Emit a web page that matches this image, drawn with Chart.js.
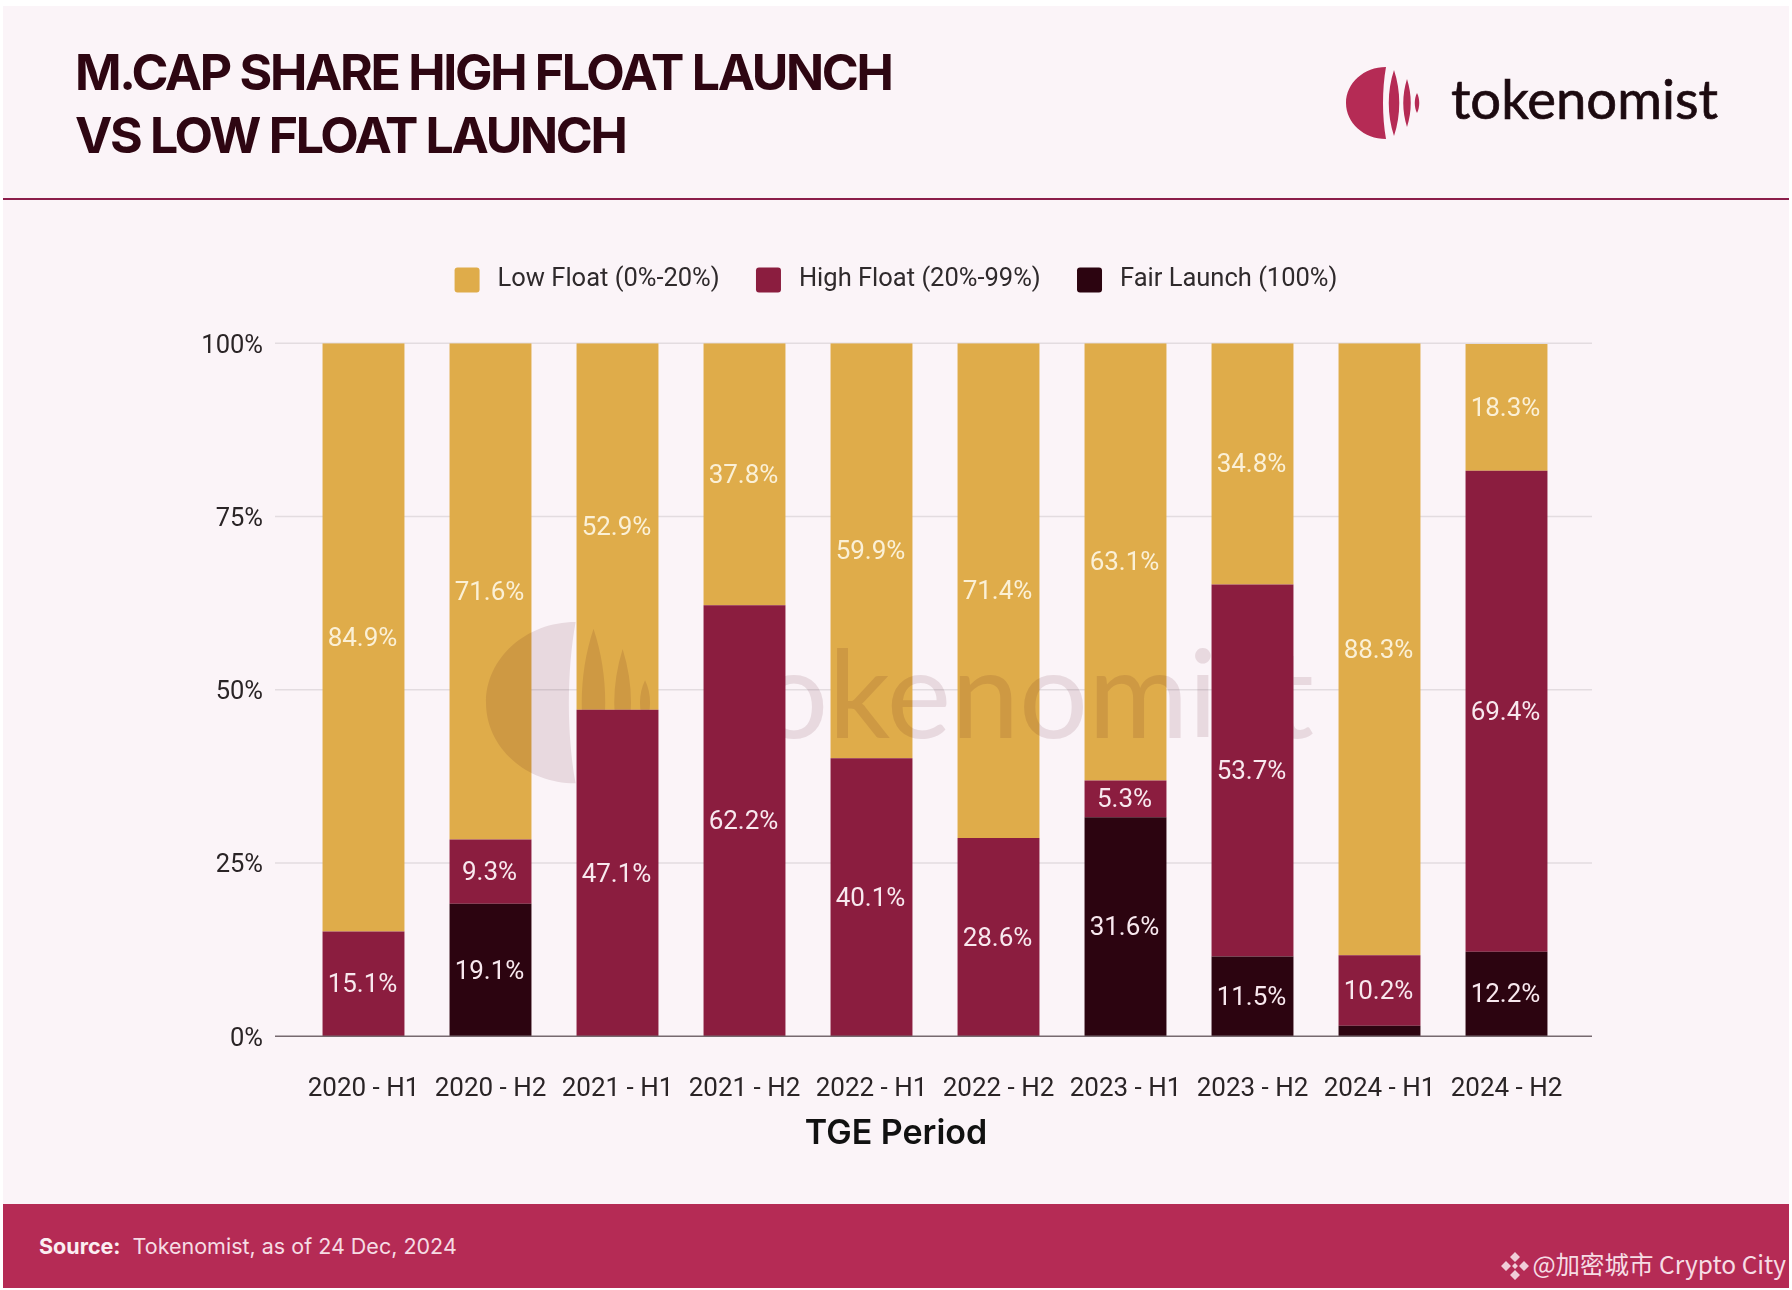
<!DOCTYPE html>
<html>
<head>
<meta charset="utf-8">
<title>M.CAP Share High Float Launch vs Low Float Launch</title>
<script src="https://cdn.jsdelivr.net/npm/chart.js@4/dist/chart.umd.min.js"></script>
<style>
    html, body { margin: 0; padding: 0; background: #fff; }
    body { width: 1792px; height: 1290px; position: relative; overflow: hidden; }
    #panel { position: absolute; left: 3px; top: 6px; width: 1786px; height: 1282px; background: #fbf4f8; }
    #heading {
        position: absolute; left: 75px; top: 41px; margin: 0;
        font: 700 50px/63px Inter, sans-serif; letter-spacing: -2.3px; color: #2e0612;
    }
    #logo { position: absolute; left: 1346px; top: 67px; }
    #rule { position: absolute; left: 3px; top: 198px; width: 1786px; height: 2px; background: #8b1d4a; }
    #chartBox { position: absolute; left: 3px; top: 202px; width: 1786px; height: 1002px; }
    #footer { position: absolute; left: 3px; top: 1204px; width: 1786px; height: 84px; background: #b52b55; }
    #source {
        position: absolute; left: 36px; top: 28px;
        font: 400 21.5px/28px Inter, sans-serif; color: #f6dce4;
    }
    #source b { color: #fbeef2; margin-right: 6px; }
    #credit {
        position: absolute; right: 3px; top: 42px; white-space: nowrap;
        font: 400 24.5px/36px "Noto Sans CJK SC", sans-serif; color: #f6dce4;
    }
    #diamond { position: absolute; left: 1497px; top: 47px; }
</style>
</head>
<body>
<div id="panel"></div>
<h1 id="heading">M.CAP SHARE HIGH FLOAT LAUNCH<br>VS LOW FLOAT LAUNCH</h1>
<svg id="logo" width="375" height="74" viewBox="0 0 375 74">
    <path id="logoPath" fill="#b52b55" d=""></path>
    <text x="105" y="52" font-family="Lato" font-size="55" textLength="267" lengthAdjust="spacingAndGlyphs" fill="#1c0a10" stroke="#1c0a10" stroke-width="0.7">tokenomist</text>
</svg>
<div id="rule"></div>
<div id="chartBox"><canvas id="shareChart" width="1786" height="1002"></canvas></div>
<div id="footer">
    <div id="source"><b>Source:</b> Tokenomist, as of 24 Dec, 2024</div>
    <svg id="diamond" width="30" height="30" viewBox="0 0 30 30" fill="#f0cdd8">
        <path d="M15 1l5 5-5 5-5-5zM6 10l5 5-5 5-5-5zM24 10l5 5-5 5-5-5zM15 19l5 5-5 5-5-5zM15 12l3 3-3 3-3-3z"></path>
    </svg>
    <div id="credit">@加密城市 Crypto City</div>
</div>

<script>
const categories = ['2020 - H1', '2020 - H2', '2021 - H1', '2021 - H2', '2022 - H1', '2022 - H2', '2023 - H1', '2023 - H2', '2024 - H1', '2024 - H2'];
const lowFloat = [84.9, 71.6, 52.9, 37.8, 59.9, 71.4, 63.1, 34.8, 88.3, 18.3];
const highFloat = [15.1, 9.3, 47.1, 62.2, 40.1, 28.6, 5.3, 53.7, 10.2, 69.4];
const fairLaunch = [0, 19.1, 0, 0, 0, 0, 31.6, 11.5, 1.5, 12.2];

// logo mark, used for the header and for the watermark behind the bars
const logoMark = 'M40 0C18 0 0 16 0 36s18 36 40 36C36 50 36 22 40 0z' +
    'M48 3C41 24 41 48 48 69C55 48 55 24 48 3z' +
    'M61 12C56 28 56 44 61 60C66 44 66 28 61 12z' +
    'M71 26C68 32 68 40 71 46C74 40 74 32 71 26z';
document.getElementById('logoPath').setAttribute('d', logoMark);

Chart.defaults.font.family = 'Roboto';
Chart.defaults.color = '#2a2426';

// y grid runs wider than the category band, so it is drawn here
const gridLines = {
    id: 'gridLines',
    beforeInit(chart) {
        // more room between the legend and the plot
        const fit = chart.legend.fit;
        chart.legend.fit = function () {
            fit.call(this);
            this.height += 40.5;
        };
    },
    beforeDraw(chart) {
        const ctx = chart.ctx;
        ctx.save();
        ctx.fillStyle = '#fbf4f8';
        ctx.fillRect(0, 0, chart.width, chart.height);
        ctx.restore();
    },
    beforeDatasetsDraw(chart) {
        const ctx = chart.ctx;
        const y = chart.scales.y;
        ctx.save();
        y.ticks.forEach(t => {
            if (t.value === 0) return;
            ctx.strokeStyle = '#e3dce0';
            ctx.lineWidth = 1.5;
            ctx.beginPath();
            ctx.moveTo(272, y.getPixelForValue(t.value));
            ctx.lineTo(1589, y.getPixelForValue(t.value));
            ctx.stroke();
        });
        ctx.restore();
    },
    afterDatasetDraw(chart, args) {
        // watermark sits on the gold bars but under the darker ones
        if (args.index !== 0) return;
        const ctx = chart.ctx;
        ctx.save();
        ctx.globalCompositeOperation = 'multiply';
        ctx.fillStyle = '#ece3e6';
        ctx.translate(483, 420);
        ctx.scale(2.24, 2.24);
        ctx.fill(new Path2D(logoMark));
        ctx.restore();
        ctx.save();
        ctx.globalCompositeOperation = 'multiply';
        ctx.fillStyle = '#ece3e6';
        ctx.font = '123px Lato';
        ctx.textBaseline = 'alphabetic';
        ctx.fillText('tokenomist', 713, 536, 598);
        ctx.restore();
    }
};

const barLabels = {
    id: 'barLabels',
    afterDatasetsDraw(chart) {
        const ctx = chart.ctx;
        const colors = ['#fbf0d6', '#f8e8ee', '#f8e8ee'];
        ctx.save();
        ctx.font = '26px Roboto';
        ctx.textAlign = 'center';
        ctx.textBaseline = 'middle';
        chart.data.datasets.forEach((ds, i) => {
            chart.getDatasetMeta(i).data.forEach((bar, j) => {
                if (ds.data[j] < 3) return;
                ctx.fillStyle = colors[i];
                ctx.fillText(ds.data[j].toFixed(1) + '%', bar.x - 1, (bar.y + bar.base) / 2 + 2);
            });
        });
        // axis line goes on top of the bar ends
        const y0 = chart.scales.y.getPixelForValue(0);
        ctx.strokeStyle = '#76696f';
        ctx.lineWidth = 1.5;
        ctx.beginPath();
        ctx.moveTo(272, y0);
        ctx.lineTo(1589, y0);
        ctx.stroke();
        ctx.restore();
    }
};

new Chart(document.getElementById('shareChart'), {
    type: 'bar',
    data: {
        labels: categories,
        datasets: [
            { label: 'Low Float (0%-20%)', data: lowFloat, backgroundColor: '#dfac4a', order: 3 },
            { label: 'High Float (20%-99%)', data: highFloat, backgroundColor: '#8b1d3f', order: 2 },
            { label: 'Fair Launch (100%)', data: fairLaunch, backgroundColor: '#2c0410', order: 1 }
        ]
    },
    options: {
        responsive: false,
        animation: false,
        layout: { padding: { top: 29, right: 197, bottom: 50, left: 197 } },
        datasets: { bar: { categoryPercentage: 1, barPercentage: 0.645 } },
        scales: {
            x: {
                stacked: true,
                afterFit(scale) { scale.height = 67; },
                grid: { display: false },
                border: { display: false },
                ticks: { font: { size: 26 }, padding: 30, maxRotation: 0, autoSkip: false, color: '#2a2426' }
            },
            y: {
                stacked: true,
                min: 0,
                max: 100,
                afterFit(scale) { scale.width = 100; },
                grid: { display: false },
                border: { display: false },
                ticks: {
                    stepSize: 25,
                    padding: 29,
                    labelOffset: 3,
                    font: { size: 25.5 },
                    color: '#2a2426',
                    callback: value => value + '%'
                }
            },
            // empty axis: the plot is off centre while legend and title are centred
            spacer: {
                position: 'right',
                afterFit(scale) { scale.width = 22; },
                grid: { display: false },
                border: { display: false },
                ticks: { display: false }
            }
        },
        plugins: {
            legend: {
                position: 'top',
                labels: {
                    boxWidth: 25,
                    boxHeight: 25,
                    padding: 36.3,
                    useBorderRadius: true,
                    borderRadius: 3,
                    font: { size: 25.5 },
                    color: '#2f2a2c',
                    sort: (a, b) => a.datasetIndex - b.datasetIndex,
                    // thin space: the swatch sits a little further from its text
                    generateLabels(chart) {
                        return Chart.defaults.plugins.legend.labels.generateLabels(chart).map(item => {
                            item.text = '\u2009' + item.text;
                            return item;
                        });
                    }
                }
            },
            title: {
                display: true,
                text: 'TGE Period',
                position: 'bottom',
                color: '#111',
                font: { family: 'Inter', size: 34, weight: '600' },
                padding: { top: 10, bottom: 0 }
            },
            tooltip: { enabled: false }
        }
    },
    plugins: [gridLines, barLabels]
});
</script>
</body>
</html>
